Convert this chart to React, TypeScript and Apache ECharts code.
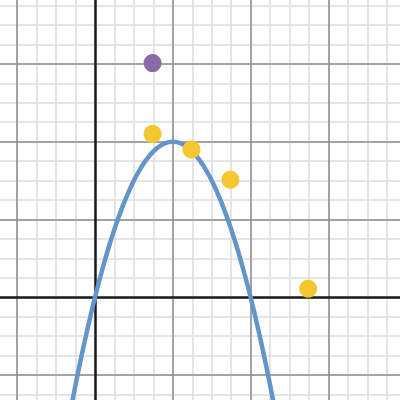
import React, { useEffect, useRef } from "react";
import * as echarts from "echarts";

// Visible window (graph units)
const X_MIN = -1.221;
const X_MAX = 3.92;
const Y_MIN = -1.32;
const Y_MAX = 3.821;

// Grid lines (graph units)
const xMinor = [-1, -0.75, -0.5, -0.25, 0, 0.25, 0.5, 0.75, 1, 1.25, 1.5, 1.75, 2, 2.25, 2.5, 2.75, 3, 3.25, 3.5, 3.75];
const yMinor = [-1.25, -1, -0.75, -0.5, -0.25, 0, 0.25, 0.5, 0.75, 1, 1.25, 1.5, 1.75, 2, 2.25, 2.5, 2.75, 3, 3.25, 3.5, 3.75];
const xMajor = [-1, 1, 2, 3];
const yMajor = [-1, 1, 2, 3];

// Curve points
const curveX = [-0.3, -0.2, -0.1, 0, 0.1, 0.2, 0.3, 0.4, 0.5, 0.6, 0.7, 0.8, 0.9, 1.0, 1.1, 1.2, 1.3, 1.4, 1.5, 1.6, 1.7, 1.8, 1.9, 2.0, 2.1, 2.2, 2.3];
const curveY = [-1.38, -0.88, -0.42, 0, 0.38, 0.72, 1.02, 1.28, 1.5, 1.68, 1.82, 1.92, 1.98, 2.0, 1.98, 1.92, 1.82, 1.68, 1.5, 1.28, 1.02, 0.72, 0.38, 0, -0.42, -0.88, -1.38];

// Yellow points
const yellowX = [0.74, 1.24, 1.74, 2.74];
const yellowY = [2.1, 1.9, 1.51, 0.11];

// Purple point
const purpleX = [0.74];
const purpleY = [3.01];

const vLines = (xs: number[]) => xs.map((v) => ({ coords: [[v, Y_MIN], [v, Y_MAX]] }));
const hLines = (ys: number[]) => ys.map((v) => ({ coords: [[X_MIN, v], [X_MAX, v]] }));

export default function App() {
  const ref = useRef<HTMLDivElement>(null);
  useEffect(() => {
    if (!ref.current) return;
    const chart = echarts.init(ref.current, undefined, { renderer: "svg" });
    const lineSeries = (data: any[], color: string, width: number, z: number) => ({
      type: "lines",
      coordinateSystem: "cartesian2d",
      silent: true,
      z,
      symbol: "none",
      lineStyle: { color, width, opacity: 1, curveness: 0 },
      data,
    });
    chart.setOption({
      animation: false,
      backgroundColor: "#ffffff",
      grid: { left: 0, right: 0, top: 0, bottom: 0, containLabel: false },
      xAxis: {
        type: "value",
        min: X_MIN,
        max: X_MAX,
        axisLine: { show: false },
        axisTick: { show: false },
        axisLabel: { show: false },
        splitLine: { show: false },
      },
      yAxis: {
        type: "value",
        min: Y_MIN,
        max: Y_MAX,
        axisLine: { show: false },
        axisTick: { show: false },
        axisLabel: { show: false },
        splitLine: { show: false },
      },
      series: [
        lineSeries([...vLines(xMinor), ...hLines(yMinor)], "#dcdcdc", 1.5, 1),
        lineSeries([...vLines(xMajor), ...hLines(yMajor)], "#8c8c8c", 1.5, 2),
        lineSeries([...vLines([0]), ...hLines([0])], "#1a1a1a", 2.5, 3),
        {
          type: "line",
          z: 4,
          smooth: true,
          symbol: "none",
          silent: true,
          lineStyle: { color: "#6395c8", width: 4.5 },
          data: curveX.map((x, i) => [x, curveY[i]]),
        },
        {
          type: "scatter",
          z: 5,
          symbolSize: 18,
          silent: true,
          itemStyle: { color: "#f5c72e", opacity: 1 },
          data: yellowX.map((x, i) => [x, yellowY[i]]),
        },
        {
          type: "scatter",
          z: 5,
          symbolSize: 18,
          silent: true,
          itemStyle: { color: "#8c69a9", opacity: 1 },
          data: purpleX.map((x, i) => [x, purpleY[i]]),
        },
      ],
    });
    return () => chart.dispose();
  }, []);
  return (
    <div
      ref={ref}
      style={{ position: "fixed", left: 0, top: 0, width: 400, height: 400 }}
    />
  );
}
